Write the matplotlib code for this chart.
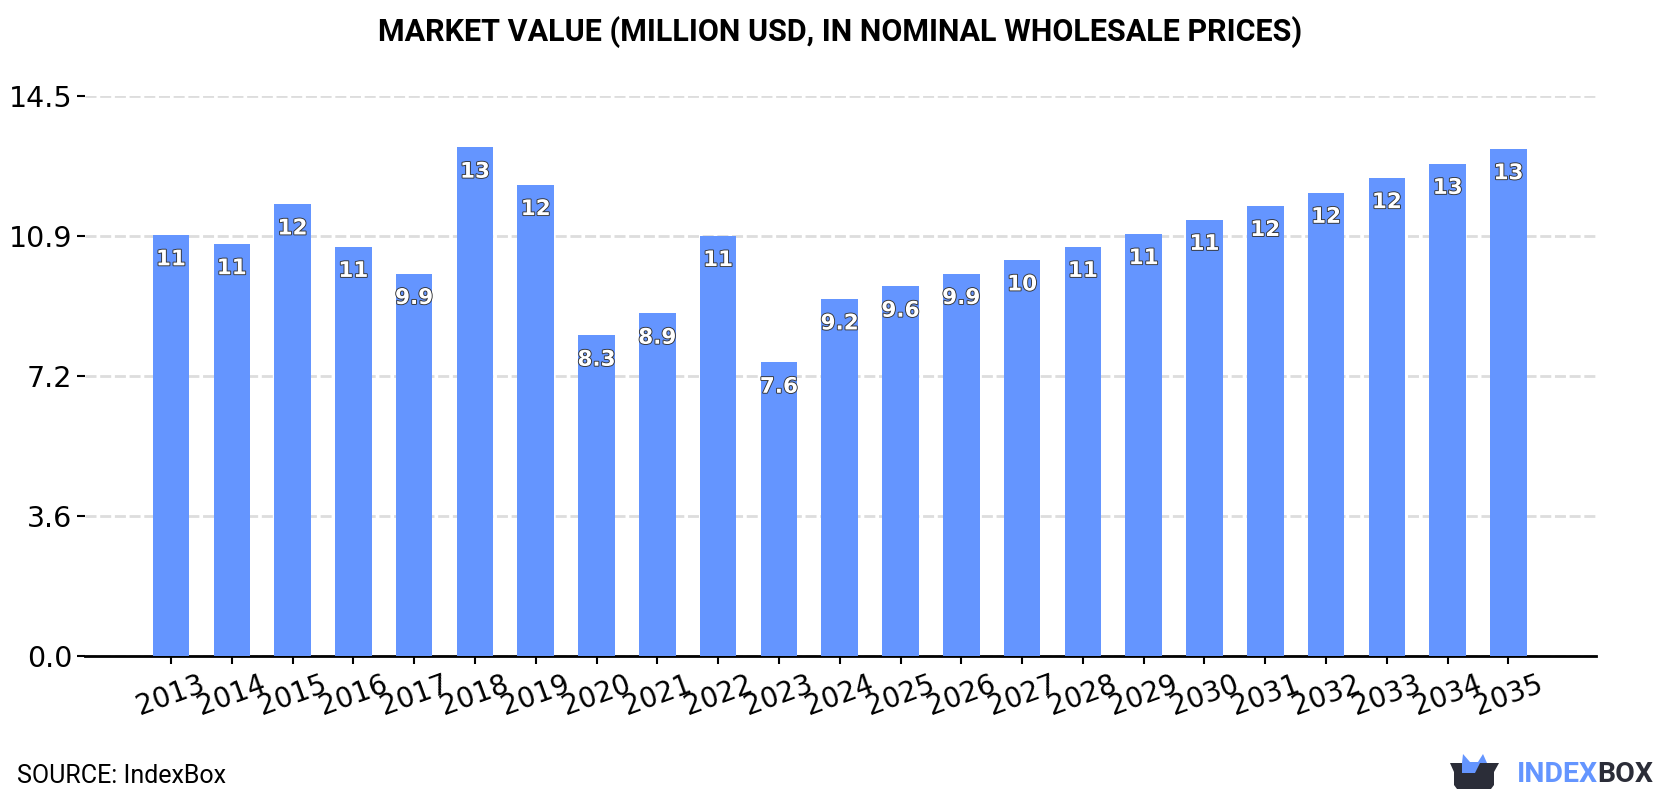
import matplotlib
matplotlib.use("Agg")
import matplotlib.pyplot as plt
import matplotlib.patheffects as pe
from matplotlib.patches import Polygon

years = [2013, 2014, 2015, 2016, 2017, 2018, 2019, 2020, 2021, 2022, 2023, 2024,
         2025, 2026, 2027, 2028, 2029, 2030, 2031, 2032, 2033, 2034, 2035]
values = [10.9, 10.67, 11.7, 10.6, 9.9, 13.17, 12.2, 8.3, 8.87, 10.88, 7.6, 9.24,
          9.57, 9.9, 10.25, 10.6, 10.93, 11.3, 11.66, 12.0, 12.38, 12.75, 13.13]
y_ticks = [0.0, 3.625, 7.25, 10.875, 14.5]

BLUE = "#6495ff"
DARK = "#2b2d38"
W, H = 1680, 800

fig = plt.figure(figsize=(W / 100, H / 100), dpi=100)
ax = fig.add_axes([85 / W, 1 - 656 / H, (1596 - 85) / W, (656 - 96) / H])

x = list(range(len(years)))
ax.bar(x, values, width=0.6, color=BLUE, zorder=3)

# value labels sit just under the top of each bar
for xi, v in zip(x, values):
    ax.annotate(f"{v:.2g}", (xi, v), xytext=(0, -17.5), textcoords="offset points",
                ha="center", va="center", color="white", fontsize=15.5,
                fontweight="bold", zorder=4,
                path_effects=[pe.withStroke(linewidth=1.3, foreground="#333333")])

ax.set_xlim(-1.414, 23.44)
ax.set_ylim(0, 14.5)
ax.set_yticks(y_ticks)
ax.set_yticklabels([f"{t:.1f}" for t in y_ticks], fontsize=20.5)
ax.set_xticks(x)
ax.set_xticklabels(years, fontsize=20, rotation=20)
ax.tick_params(axis="y", length=6, width=1.5, pad=3, color="black")
ax.tick_params(axis="x", length=6, width=1.5, pad=4, color="black")

ax.grid(axis="y", color="#dddddd", linewidth=2, linestyle=(0, (3.96, 1.33)), zorder=0)
ax.set_axisbelow(True)
for side in ["top", "left", "right"]:
    ax.spines[side].set_visible(False)
ax.spines["bottom"].set_linewidth(2)

fig.text(0.5, 1 - 32 / H, "MARKET VALUE (MILLION USD, IN NOMINAL WHOLESALE PRICES)",
         ha="center", va="center", fontsize=22, fontweight="bold", family="Roboto")
fig.text(17 / W, 1 - 776 / H, "SOURCE: IndexBox", ha="left", va="center",
         fontsize=18, family="Roboto")

# logo, laid out on a pixel grid
logo = fig.add_axes([0, 0, 1, 1], facecolor="none")
logo.set_xlim(0, W)
logo.set_ylim(H, 0)
logo.axis("off")
logo.add_patch(Polygon([(1462, 763), (1463, 754), (1470, 762), (1478, 762),
                        (1483, 754), (1487, 763), (1484, 773), (1462, 773)],
                       closed=True, color=BLUE, lw=0))
logo.add_patch(Polygon([(1450, 763), (1462, 763), (1462, 773), (1475, 773), (1480, 763),
                        (1499, 763), (1494, 772), (1494, 785), (1491, 789),
                        (1457, 789), (1454, 785), (1454, 772)],
                       closed=True, color=DARK, lw=0))
logo.text(1517, 774, "INDEX", color=BLUE, fontsize=20.5, fontweight="bold",
          family="Roboto", ha="left", va="center")
logo.text(1597, 774, "BOX", color=DARK, fontsize=20.5, fontweight="bold",
          family="Roboto", ha="left", va="center")

fig.savefig("out.png", dpi=100)
